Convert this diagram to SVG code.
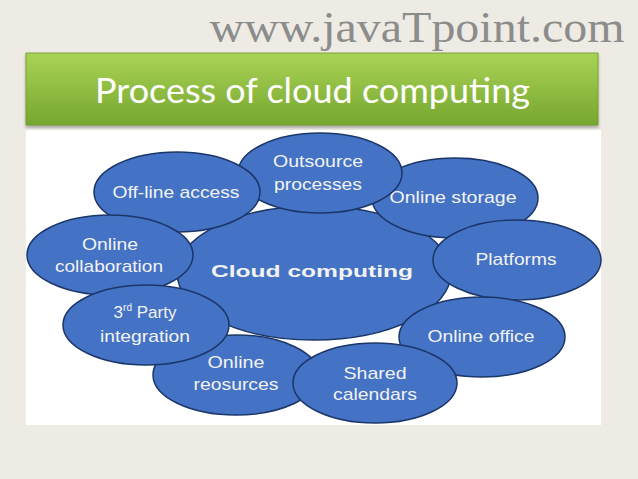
<svg xmlns="http://www.w3.org/2000/svg" width="638" height="479" viewBox="0 0 638 479">
<defs>
<linearGradient id="gbar" x1="0" y1="0" x2="0" y2="1">
<stop offset="0" stop-color="#a9d355"/>
<stop offset="1" stop-color="#77a62f"/>
</linearGradient>
<filter id="sh" x="-5%" y="-10%" width="110%" height="130%">
<feDropShadow dx="0" dy="2" stdDeviation="1.5" flood-color="#000" flood-opacity="0.35"/>
</filter>
</defs>
<style>
.n ellipse{fill:#4472c4;stroke:#1b3668;stroke-width:1.5}
.n text{font-family:"Liberation Sans",Arial,sans-serif;font-size:17px;fill:#f2f2f2;text-anchor:middle}
.big{font-weight:bold}
</style>
<rect width="638" height="479" fill="#edebe3"/>
<text x="417" y="42" font-family="Liberation Serif,serif" font-size="45" fill="#8c8c8c" text-anchor="middle" textLength="415" lengthAdjust="spacingAndGlyphs">www.javaTpoint.com</text>
<rect x="26" y="53" width="572" height="72" fill="url(#gbar)" stroke="#6d9a2a" stroke-width="0.8" filter="url(#sh)"/>
<text x="95" y="103" font-family="Lato,'Open Sans',sans-serif" font-size="35" fill="#ffffff" textLength="435" lengthAdjust="spacingAndGlyphs">Process of cloud computing</text>
<rect x="26" y="130" width="575" height="295" fill="#ffffff"/>

<g id="cloud" class="n"><ellipse cx="314" cy="273" rx="137" ry="67"/><text class="big" x="312" y="277" font-size="22" textLength="202" lengthAdjust="spacingAndGlyphs">Cloud computing</text></g>
<g id="storage" class="n"><ellipse cx="455" cy="198" rx="83" ry="40"/><text x="453" y="203" textLength="127" lengthAdjust="spacingAndGlyphs">Online storage</text></g>
<g id="outsource" class="n"><ellipse cx="320" cy="173" rx="82" ry="40"/><text x="318" y="167" textLength="90" lengthAdjust="spacingAndGlyphs">Outsource</text><text x="318" y="190" textLength="88" lengthAdjust="spacingAndGlyphs">processes</text></g>
<g id="offline" class="n"><ellipse cx="177" cy="192" rx="83" ry="40"/><text x="176" y="198" textLength="127" lengthAdjust="spacingAndGlyphs">Off-line access</text></g>
<g id="collab" class="n"><ellipse cx="110" cy="255" rx="83" ry="40"/><text x="110" y="250" textLength="56" lengthAdjust="spacingAndGlyphs">Online</text><text x="109" y="272" textLength="108" lengthAdjust="spacingAndGlyphs">collaboration</text></g>
<g id="platforms" class="n"><ellipse cx="517" cy="260" rx="84" ry="40"/><text x="516" y="265" textLength="81" lengthAdjust="spacingAndGlyphs">Platforms</text></g>
<g id="resources" class="n"><ellipse cx="236" cy="375" rx="83" ry="40"/><text x="236" y="368" textLength="57" lengthAdjust="spacingAndGlyphs">Online</text><text x="236" y="390" textLength="85" lengthAdjust="spacingAndGlyphs">reosurces</text></g>
<g id="party" class="n"><ellipse cx="146" cy="325" rx="83" ry="40"/><text x="145" y="318">3<tspan font-size="10" dy="-7">rd</tspan><tspan dy="7"> Party</tspan></text><text x="145" y="342" textLength="90" lengthAdjust="spacingAndGlyphs">integration</text></g>
<g id="office" class="n"><ellipse cx="482" cy="337" rx="83" ry="40"/><text x="481" y="342" textLength="107" lengthAdjust="spacingAndGlyphs">Online office</text></g>
<g id="calendars" class="n"><ellipse cx="375" cy="383" rx="82" ry="40"/><text x="375" y="379" textLength="63" lengthAdjust="spacingAndGlyphs">Shared</text><text x="375" y="400" textLength="84" lengthAdjust="spacingAndGlyphs">calendars</text></g>
<g id="connectors"/>
</svg>
